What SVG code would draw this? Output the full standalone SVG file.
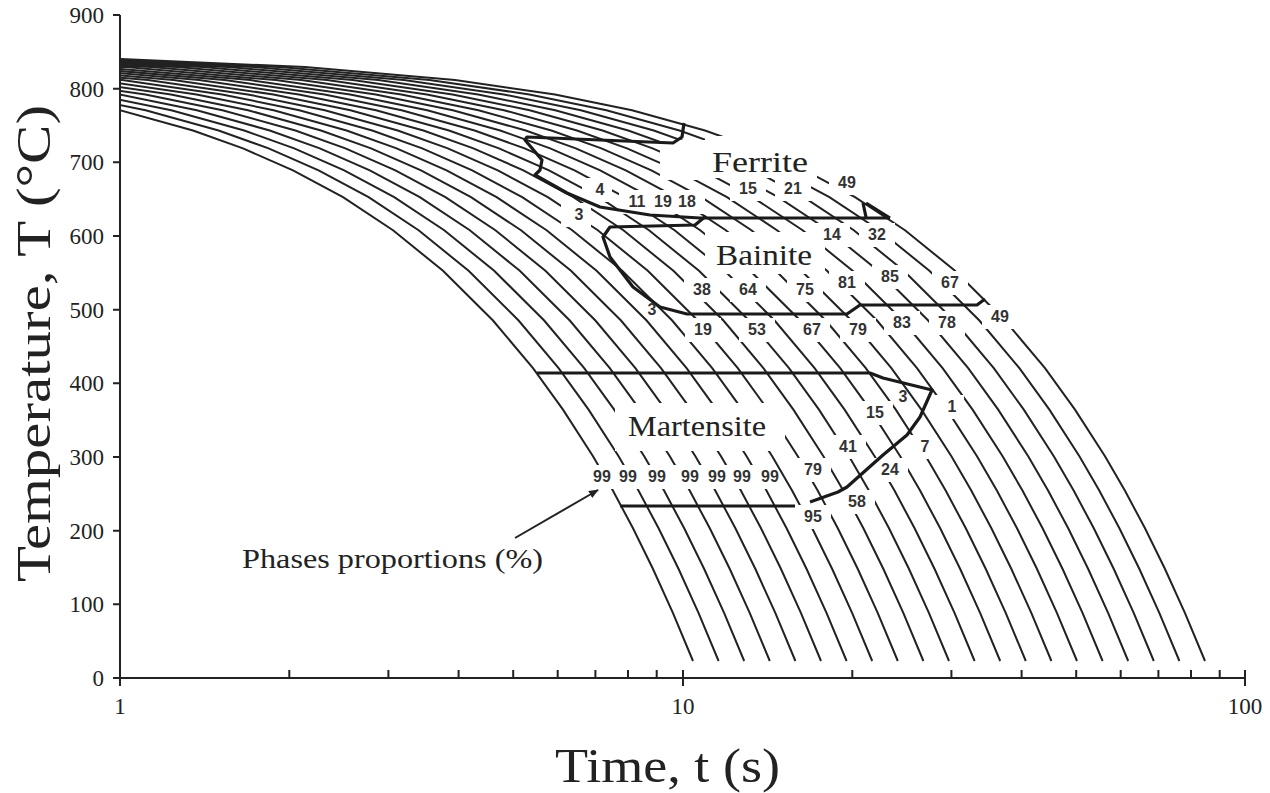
<svg xmlns="http://www.w3.org/2000/svg" xmlns:xlink="http://www.w3.org/1999/xlink" width="1270" height="793" viewBox="0 0 1270 793">
<style>
.c{fill:none;stroke:#222;stroke-width:2}
.b{fill:none;stroke:#1a1a1a;stroke-width:3.2;stroke-linejoin:round}
.n{font-family:"Liberation Sans",Arial,sans-serif;font-weight:bold;font-size:16px;fill:#333;text-anchor:middle}
.p{font-family:"Liberation Serif","Times New Roman",serif;fill:#222}
.w{fill:#fff}
.ax{stroke:#222;stroke-width:2;fill:none}
.tk{font-family:"Liberation Serif","Times New Roman",serif;font-size:23px;fill:#222}
</style>
<defs>
<clipPath id="clp"><rect x="121" y="0" width="1149" height="793"/></clipPath>
<path id="cv" class="c" d="M-392,59 L-207,67.1 L-57,80.1 L43,94.4 L120,110.2 L193,130.5 L243,148.4 L293,170.3 L343,197.2 L393,230.2 L443,270.8 L493,320.5 L533,368.2 L563,409.6 L593,456.3 L613,490.8 L633,528.3 L653,569 L673,613.1 L693,661"/>
<marker id="ar" markerWidth="10" markerHeight="8" refX="9" refY="4" orient="auto" markerUnits="userSpaceOnUse"><path d="M0,0 L10,4 L0,8 z" fill="#222"/></marker>
</defs>
<g id="curves" clip-path="url(#clp)">
<use xlink:href="#cv"/><use xlink:href="#cv" x="25.6"/><use xlink:href="#cv" x="51.2"/><use xlink:href="#cv" x="76.8"/><use xlink:href="#cv" x="102.4"/><use xlink:href="#cv" x="128"/><use xlink:href="#cv" x="153.6"/><use xlink:href="#cv" x="179.2"/><use xlink:href="#cv" x="204.8"/><use xlink:href="#cv" x="230.4"/><use xlink:href="#cv" x="256"/><use xlink:href="#cv" x="281.6"/><use xlink:href="#cv" x="307.2"/><use xlink:href="#cv" x="332.8"/><use xlink:href="#cv" x="358.4"/><use xlink:href="#cv" x="384"/><use xlink:href="#cv" x="409.6"/><use xlink:href="#cv" x="435.2"/><use xlink:href="#cv" x="460.8"/><use xlink:href="#cv" x="486.4"/><use xlink:href="#cv" x="512"/>
</g>
<g id="masks">
<rect class="w" x="705" y="136" width="112" height="42"/>
<rect class="w" x="705" y="232" width="120" height="42"/>
<rect class="w" x="615" y="403" width="170" height="48"/>
<rect class="w" x="660" y="140" width="50" height="40"/>
<g transform="translate(-18,-12)">
<rect class="w" x="600" y="190" width="30" height="24"/>
<rect class="w" x="637" y="202" width="36" height="24"/><rect class="w" x="663" y="202" width="36" height="24"/><rect class="w" x="687" y="202" width="36" height="24"/>
<rect class="w" x="579" y="215" width="30" height="24"/>
<rect class="w" x="748" y="189" width="36" height="24"/><rect class="w" x="793" y="189" width="36" height="24"/><rect class="w" x="847" y="183" width="36" height="24"/>
<rect class="w" x="832" y="235" width="36" height="24"/><rect class="w" x="877" y="235" width="36" height="24"/>
<rect class="w" x="702" y="290" width="36" height="24"/><rect class="w" x="748" y="290" width="36" height="24"/><rect class="w" x="805" y="290" width="36" height="24"/><rect class="w" x="847" y="283" width="36" height="24"/><rect class="w" x="890" y="277" width="36" height="24"/><rect class="w" x="950" y="283" width="36" height="24"/>
<rect class="w" x="703" y="330" width="36" height="24"/><rect class="w" x="757" y="330" width="36" height="24"/><rect class="w" x="812" y="330" width="36" height="24"/><rect class="w" x="858" y="330" width="36" height="24"/><rect class="w" x="902" y="323" width="36" height="24"/><rect class="w" x="947" y="323" width="36" height="24"/><rect class="w" x="1000" y="317" width="36" height="24"/>
<rect class="w" x="875" y="413" width="36" height="24"/><rect class="w" x="952" y="407" width="30" height="24"/><rect class="w" x="848" y="447" width="36" height="24"/><rect class="w" x="925" y="447" width="30" height="24"/>
<rect class="w" x="813" y="470" width="36" height="24"/><rect class="w" x="890" y="470" width="36" height="24"/><rect class="w" x="857" y="502" width="36" height="24"/><rect class="w" x="813" y="517" width="36" height="24"/>
<rect class="w" x="602" y="477" width="188" height="24"/>
</g>
</g>
<g id="boundaries">
<path class="b" d="M684,123 L682,137 L673,143 L527,137 L525,140 L542,160 L540,170 L535,175 L567,193 L600,207 L650,215 L700,218 L890,218"/>
<path class="b" d="M863,203 L866,217 M866,203 L890,218"/>
<path class="b" d="M706,216 L695,225 L610,227 L603,237 L610,257 L633,287 L660,307 L687,314 L847,314 L860,305 L977,305 L985,299"/>
<path class="b" d="M537,373 L870,373 L883,378 L932,390 L920,417 L907,435 L883,455 L847,487 L838,492 L810,502"/>
<path class="b" d="M620,506 L795,506"/>
</g>
<g id="labels">
<text class="p" x="712" y="172" font-size="30" textLength="96" lengthAdjust="spacingAndGlyphs">Ferrite</text>
<text class="p" x="716" y="265" font-size="30" textLength="96" lengthAdjust="spacingAndGlyphs">Bainite</text>
<text class="p" x="628" y="436" font-size="30" textLength="138" lengthAdjust="spacingAndGlyphs">Martensite</text>
<text class="p" x="242" y="568" font-size="27" textLength="301" lengthAdjust="spacingAndGlyphs">Phases proportions (%)</text>
<line x1="515" y1="538" x2="598" y2="490" stroke="#222" stroke-width="2" marker-end="url(#ar)"/>
<text class="n" x="600" y="195">4</text><text class="n" x="637" y="207">11</text><text class="n" x="663" y="207">19</text><text class="n" x="687" y="207">18</text><text class="n" x="579" y="220">3</text>
<text class="n" x="748" y="194">15</text><text class="n" x="793" y="194">21</text><text class="n" x="847" y="188">49</text>
<text class="n" x="832" y="240">14</text><text class="n" x="877" y="240">32</text>
<text class="n" x="702" y="295">38</text><text class="n" x="748" y="295">64</text><text class="n" x="805" y="295">75</text><text class="n" x="847" y="288">81</text><text class="n" x="890" y="282">85</text><text class="n" x="950" y="288">67</text>
<text class="n" x="652" y="315">3</text>
<text class="n" x="703" y="335">19</text><text class="n" x="757" y="335">53</text><text class="n" x="812" y="335">67</text><text class="n" x="858" y="335">79</text><text class="n" x="902" y="328">83</text><text class="n" x="947" y="328">78</text><text class="n" x="1000" y="322">49</text>
<text class="n" x="903" y="402">3</text><text class="n" x="875" y="418">15</text><text class="n" x="952" y="412">1</text><text class="n" x="848" y="452">41</text><text class="n" x="925" y="452">7</text>
<text class="n" x="813" y="475">79</text><text class="n" x="890" y="475">24</text><text class="n" x="857" y="507">58</text><text class="n" x="813" y="522">95</text>
<text class="n" x="602" y="482">99</text><text class="n" x="628" y="482">99</text><text class="n" x="657" y="482">99</text><text class="n" x="690" y="482">99</text><text class="n" x="717" y="482">99</text><text class="n" x="742" y="482">99</text><text class="n" x="770" y="482">99</text>
</g>
<g id="axes">
<path class="ax" d="M120,15 L120,678 L1245,678"/>
<path class="ax" d="M113,15 H120 M113,88.7 H120 M113,162.3 H120 M113,236 H120 M113,309.7 H120 M113,383.3 H120 M113,457 H120 M113,530.7 H120 M113,604.3 H120 M113,678 H120"/>
<path class="ax" d="M120,670 V686 M683,670 V686 M1245,670 V686 M289.3,670 V678 M388.4,670 V678 M458.6,670 V678 M513.2,670 V678 M557.7,670 V678 M595.4,670 V678 M628,670 V678 M656.7,670 V678 M852.3,670 V678 M951.4,670 V678 M1021.6,670 V678 M1076.2,670 V678 M1120.7,670 V678 M1158.4,670 V678 M1191,670 V678 M1219.7,670 V678"/>
<g class="tk" text-anchor="end">
<text x="104" y="23">900</text><text x="104" y="97">800</text><text x="104" y="170">700</text><text x="104" y="244">600</text><text x="104" y="318">500</text><text x="104" y="391">400</text><text x="104" y="465">300</text><text x="104" y="539">200</text><text x="104" y="612">100</text><text x="104" y="686">0</text>
</g>
<g class="tk" text-anchor="middle"><text x="120" y="714">1</text><text x="683" y="714">10</text><text x="1245" y="714">100</text></g>
<text class="p" x="555" y="782" font-size="48" textLength="225" lengthAdjust="spacingAndGlyphs">Time, t (s)</text>
<text class="p" x="0" y="0" font-size="48" textLength="477" lengthAdjust="spacingAndGlyphs" transform="translate(50,582) rotate(-90)">Temperature, T (°C)</text>
</g>
</svg>
